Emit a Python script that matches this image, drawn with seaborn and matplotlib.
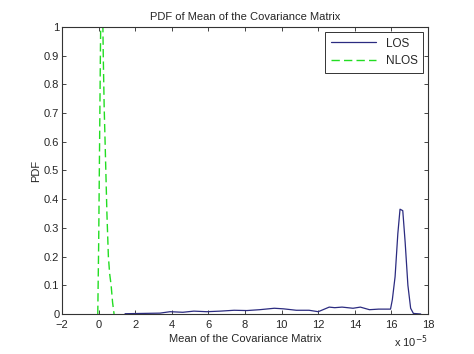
import numpy as np
import pandas as pd
import matplotlib
matplotlib.use("Agg")
import matplotlib.pyplot as plt
import seaborn as sns

sns.set_style("ticks")
plt.rcParams['font.family'] = ['Liberation Sans', 'DejaVu Sans']

# values (x in units of 1e-5)
los_x = [1.44, 3.35, 3.9, 4.6, 5.2, 5.9, 6.65, 7.4, 8.1, 8.8, 9.6, 10.1, 10.8, 11.5,
         12.0, 12.6, 12.9, 13.3, 13.9, 14.3, 14.8, 15.3, 15.95,
         16.05, 16.2, 16.35, 16.47, 16.62, 16.75, 16.9, 17.05, 17.2, 17.6]
los_y = [0.001, 0.003, 0.008, 0.006, 0.010, 0.008, 0.010, 0.013, 0.012, 0.015, 0.020, 0.018,
         0.013, 0.013, 0.008, 0.024, 0.022, 0.024, 0.020, 0.024, 0.015, 0.017, 0.017,
         0.05, 0.13, 0.28, 0.365, 0.36, 0.25, 0.10, 0.02, 0.002, 0.0]

nlos_x = [-0.05, 0.0, 0.05, 0.10, 0.15, 0.20, 0.25, 0.30, 0.35, 0.45, 0.53, 0.60, 0.68, 0.76, 0.84]
nlos_y = [0.0, 0.25, 0.6, 0.95, 1.2, 1.15, 0.9, 0.72, 0.6, 0.35, 0.2, 0.14, 0.1, 0.04, 0.0]

los_df = pd.DataFrame({"x": los_x, "y": los_y})
nlos_df = pd.DataFrame({"x": nlos_x, "y": nlos_y})

fig = plt.figure(figsize=(4.74, 3.54), dpi=100)
ax = fig.add_axes([0.131, 0.113, 0.772, 0.811])

sns.lineplot(data=los_df, x="x", y="y", ax=ax, color="#2b2b80", linewidth=0.9,
             label="LOS", sort=False)
sns.lineplot(data=nlos_df, x="x", y="y", ax=ax, color="#22dd22", linewidth=1.0,
             label="NLOS", sort=False, dashes=False)
ax.lines[1].set_dashes([6, 3])

ax.set_xlim(-2, 18)
ax.set_ylim(0, 1)
ax.set_xticks(np.arange(-2, 19, 2))
ax.set_yticks(np.round(np.arange(0, 1.01, 0.1), 1))
ax.set_yticklabels(["0", "0.1", "0.2", "0.3", "0.4", "0.5", "0.6", "0.7", "0.8", "0.9", "1"])

ax.tick_params(direction="in", top=True, right=True, labelsize=8, length=3, width=0.6)
ax.tick_params(axis="x", pad=4)
ax.tick_params(axis="y", pad=2)
for s in ax.spines.values():
    s.set_linewidth(0.8)
    s.set_color("#333333")

ax.set_title("PDF of Mean of the Covariance Matrix", fontsize=8, pad=5)
ax.set_xlabel("Mean of the Covariance Matrix", fontsize=8, labelpad=3)
ax.set_ylabel("PDF", fontsize=8, labelpad=2)
fig.text(0.903, 0.012, r"x 10$^{-5}$", ha="right", va="bottom", fontsize=8)

leg = ax.legend(loc="upper right", fontsize=8.5, frameon=True, fancybox=False,
                edgecolor="black", handlelength=3.8, borderaxespad=0.4,
                labelspacing=0.45, borderpad=0.5)
leg.get_frame().set_linewidth(0.7)

fig.savefig("out.png", dpi=100, facecolor="white")
